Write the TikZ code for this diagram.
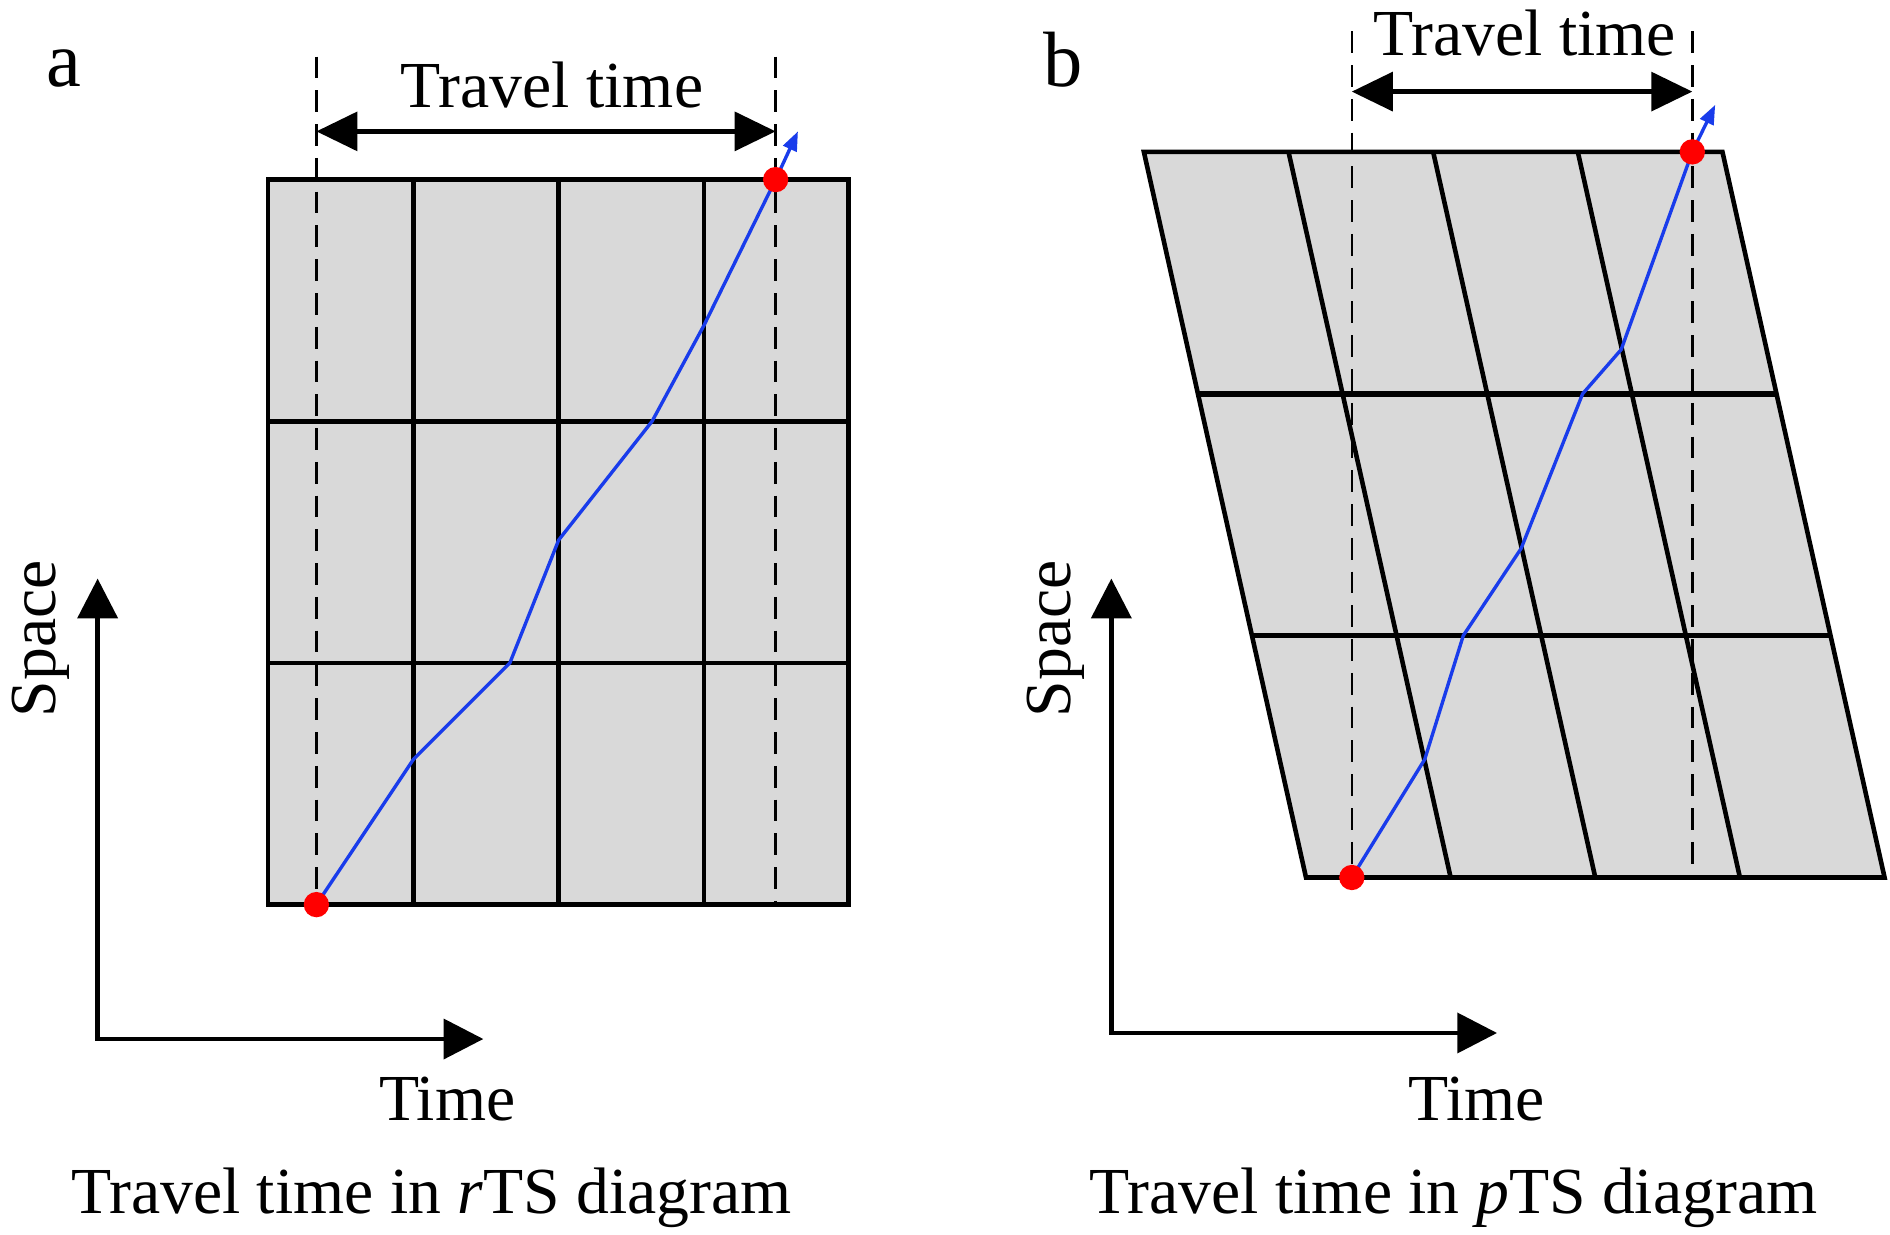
\documentclass[tikz,border=0pt]{standalone}
\usepackage{fontspec}
\setmainfont{Liberation Serif}
\usetikzlibrary{arrows.meta}
\definecolor{cellgray}{RGB}{217,217,217}
\definecolor{pathblue}{RGB}{25,60,235}

\begin{document}
\begin{tikzpicture}[x=0.01cm, y=-0.01cm,
    cellline/.style={line width=0.038cm},
    guideline/.style={dash pattern=on 0.18cm off 0.1cm, line width=0.02cm},
    spanarrow/.style={{Triangle[length=0.34cm,width=0.32cm]}-{Triangle[length=0.34cm,width=0.32cm]}, line width=0.038cm},
    axisarrow/.style={{Triangle[length=0.33cm,width=0.33cm]}-{Triangle[length=0.33cm,width=0.33cm]}, line width=0.038cm},
    route/.style={pathblue, line width=0.028cm, -{Triangle[length=0.16cm,width=0.12cm]}},
    stopdot/.style={circle, fill=red, inner sep=0pt, minimum size=0.21cm},
    lbl/.style={font=\fontsize{15.5}{18}\selectfont, inner sep=0pt, anchor=base},
    tag/.style={font=\fontsize{18.5}{22}\selectfont, inner sep=0pt, anchor=base}]
    \useasboundingbox (0,0) rectangle (1568,1024);

    % panel a: rTS grid
    \fill[cellgray] (222.5,149) rectangle (704,750.5);
    \foreach \x in {343,463.5,584}
        \draw[cellline] (\x,149) -- (\x,750.5);
    \foreach \y in {349.5,550}
        \draw[cellline] (222.5,\y) -- (704,\y);
    \draw[cellline] (222.5,149) rectangle (704,750.5);

    \coordinate (A0) at (262.5,750.5);
    \coordinate (A1) at (343,630);
    \coordinate (A2) at (423,550);
    \coordinate (A3) at (463.5,448);
    \coordinate (A4) at (541,349.5);
    \coordinate (A5) at (584,270);
    \coordinate (A6) at (643.5,149);
    \coordinate (A7) at (662,109);

    \coordinate (aLtop) at (262.5,47);
    \coordinate (aRtop) at (643.5,47);
    \coordinate (aRbot) at (643.5,750.5);
    \coordinate (aL) at (262.5,109);
    \coordinate (aR) at (643.5,109);

    \draw[guideline] (aLtop) -- (A0);
    \draw[guideline] (aRtop) -- (aRbot);
    \draw[route] (A0) -- (A1) -- (A2) -- (A3) -- (A4) -- (A5) -- (A6) -- (A7);
    \node[stopdot] (startA) at (A0) {};
    \node[stopdot] (endA) at (A6) {};
    \draw[spanarrow] (aL) -- (aR);

    \coordinate (Oa) at (81,862);
    \coordinate (Ya) at (81,480);
    \coordinate (Xa) at (401,862);
    \draw[axisarrow] (Ya) -- (Oa) -- (Xa);

    \node[tag] (tagA) at (53,72) {a};
    \node[lbl] (ttA) at (458,89) {Travel time};
    \node[lbl, rotate=90] (spaceA) at (46,530) {Space};
    \node[lbl] (timeA) at (371,930) {Time};
    \node[lbl] (capA) at (358,1007) {Travel time in \textit{r}TS diagram};

    % panel b: pTS grid
    \fill[cellgray] (949,126) -- (1429,126) -- (1563.5,728) -- (1083.5,728) -- cycle;
    \foreach \k in {1,2,3}
        \draw[cellline] ({949+120*\k},126) -- ({1083.5+120*\k},728);
    \draw[line width=0.048cm] (993.8,326.7) -- (1473.8,326.7);
    \draw[line width=0.048cm] (1038.7,527.3) -- (1518.7,527.3);
    \draw[cellline] (949,126) -- (1429,126) -- (1563.5,728) -- (1083.5,728) -- cycle;

    \coordinate (B0) at (1121.5,728);
    \coordinate (B1) at (1182,630);
    \coordinate (B2) at (1214,527.3);
    \coordinate (B3) at (1262,455);
    \coordinate (B4) at (1313,326.7);
    \coordinate (B5) at (1345,290);
    \coordinate (B6) at (1404,126);
    \coordinate (B7) at (1423,87);

    \coordinate (bLtop) at (1121.5,26);
    \coordinate (bRtop) at (1404,26);
    \coordinate (bRbot) at (1404,728);
    \coordinate (bL) at (1121.5,76);
    \coordinate (bR) at (1404,76);

    \draw[guideline] (bLtop) -- (B0);
    \draw[guideline] (bRtop) -- (bRbot);
    \draw[route] (B0) -- (B1) -- (B2) -- (B3) -- (B4) -- (B5) -- (B6) -- (B7);
    \node[stopdot] (startB) at (B0) {};
    \node[stopdot] (endB) at (B6) {};
    \draw[spanarrow] (bL) -- (bR);

    \coordinate (Ob) at (922,857);
    \coordinate (Yb) at (922,480);
    \coordinate (Xb) at (1242,857);
    \draw[axisarrow] (Yb) -- (Ob) -- (Xb);

    \node[tag] (tagB) at (882,72) {b};
    \node[lbl] (ttB) at (1265,46) {Travel time};
    \node[lbl, rotate=90] (spaceB) at (888,530) {Space};
    \node[lbl] (timeB) at (1225,930) {Time};
    \node[lbl] (capB) at (1206,1007) {Travel time in \textit{p}TS diagram};

\end{tikzpicture}
\end{document}
